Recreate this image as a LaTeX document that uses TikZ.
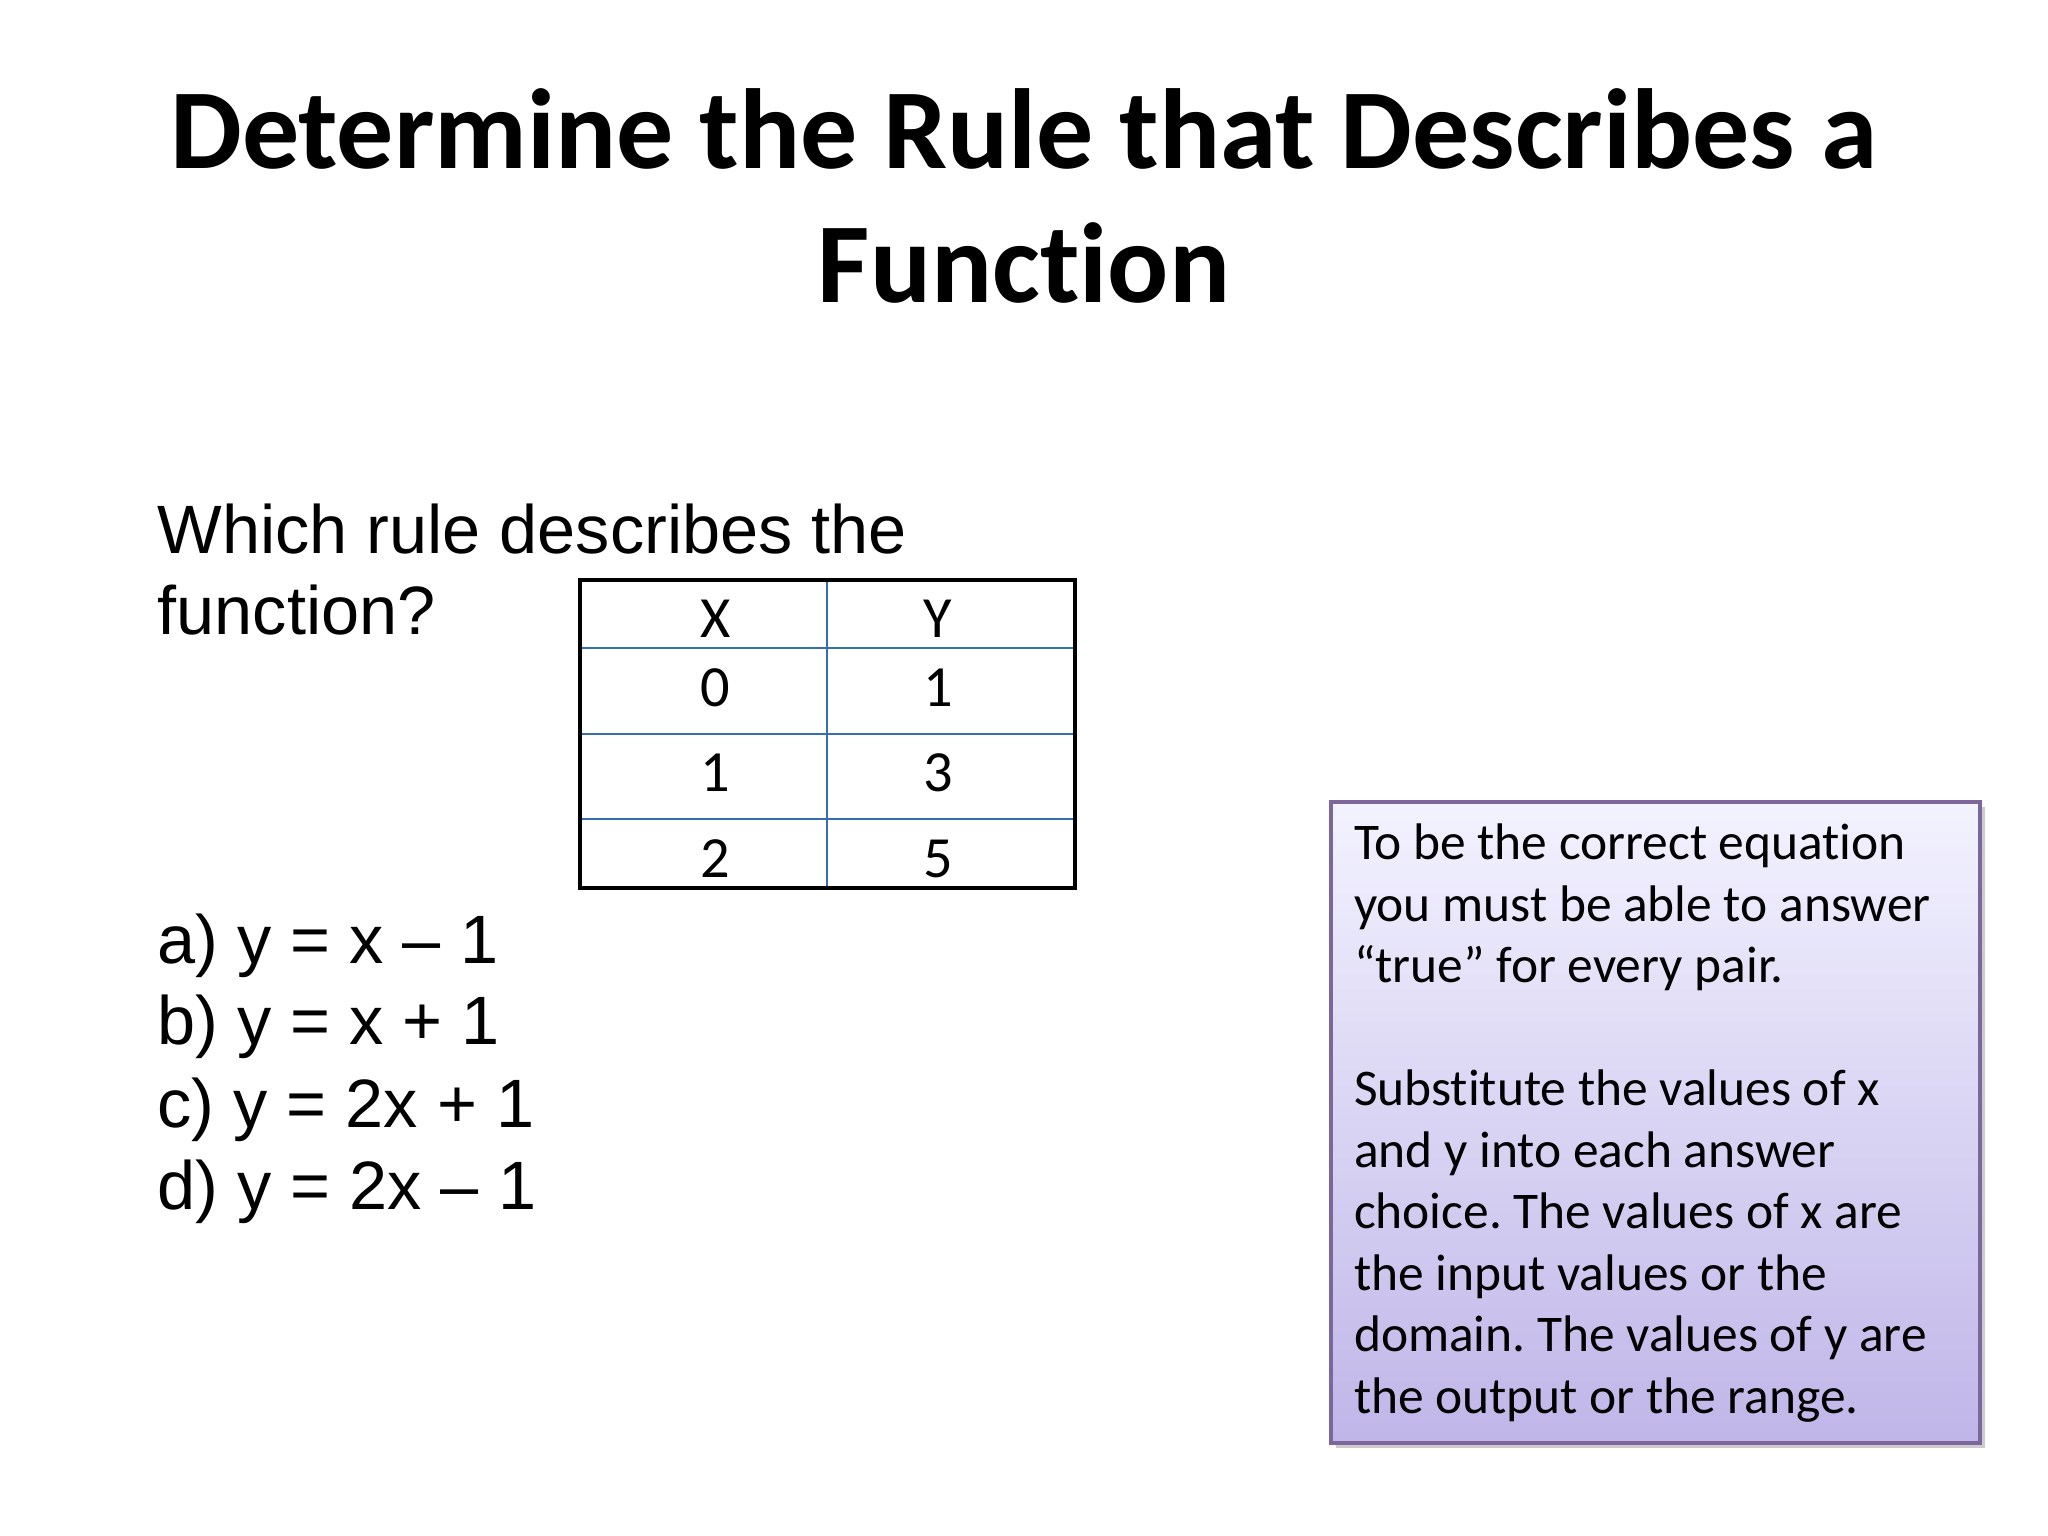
\documentclass[tikz,border=0pt]{standalone}
\usepackage{fontspec}
\setmainfont{Carlito}[Ligatures={NoCommon}]
\newfontfamily\arialf{Liberation Sans}
\frenchspacing
\begin{document}
\begin{tikzpicture}[x=0.01cm,y=-0.01cm,
  tline/.style={draw=blue!50!cyan!60!black!80,line width=0.5pt},
  cell/.style={font=\fontsize{12.7}{14}\selectfont,anchor=base},
  ans/.style={font=\arialf\fontsize{14.9}{17.6}\selectfont,anchor=base west,inner sep=0pt}]
\useasboundingbox (0,0) rectangle (1568,1176);
\node[font=\bfseries\fontsize{24.8}{30}\selectfont,align=center] (title) at (784,150)
  {Determine the Rule that Describes a\\[-1pt]Function};
\node[ans] (q1) at (120,424) {Which rule describes the};
\node[ans] (q2) at (120,486) {function?};
\node[ans] (a) at (120,738) {a) y = x – 1};
\node[ans] (b) at (120,800) {b) y = x + 1};
\node[ans] (c) at (120,863) {c) y = 2x + 1};
\node[ans] (d) at (120,926) {d) y = 2x – 1};
% table
\draw[tline] (633,444) -- (633,680);
\draw[tline] (444,496) -- (823,496);
\draw[tline] (444,562) -- (823,562);
\draw[tline] (444,627) -- (823,627);
\draw[line width=1pt] (444,444) rectangle (823,680);
\node[cell] (hx) at (548,488) {X};
\node[cell] (hy) at (718,488) {Y};
\node[cell] (x0) at (548,541) {0};
\node[cell] (y0) at (718,541) {1};
\node[cell] (x1) at (548,606) {1};
\node[cell] (y1) at (718,606) {3};
\node[cell] (x2) at (548,672) {2};
\node[cell] (y2) at (718,672) {5};
% box
\fill[black!20] (1023,618) rectangle (1520,1109);
\shade[top color=purple!6!blue!5!white,bottom color=purple!22!blue!25!white!95!black] (1019,614) rectangle (1516,1105);
\draw[draw=purple!40!blue!50!black!60,line width=0.8pt] (1019,614) rectangle (1516,1105);
\node[anchor=north west,align=left,inner sep=0pt,font=\fontsize{11.2}{13.4}\selectfont] (note) at (1036,630)
{To be the correct equation\\you must be able to answer\\“true” for every pair.\\[13.4pt]
Substitute the values of x\\and y into each answer\\choice. The values of x are\\the input values or the\\domain. The values of y are\\the output or the range.};
\end{tikzpicture}
\end{document}
